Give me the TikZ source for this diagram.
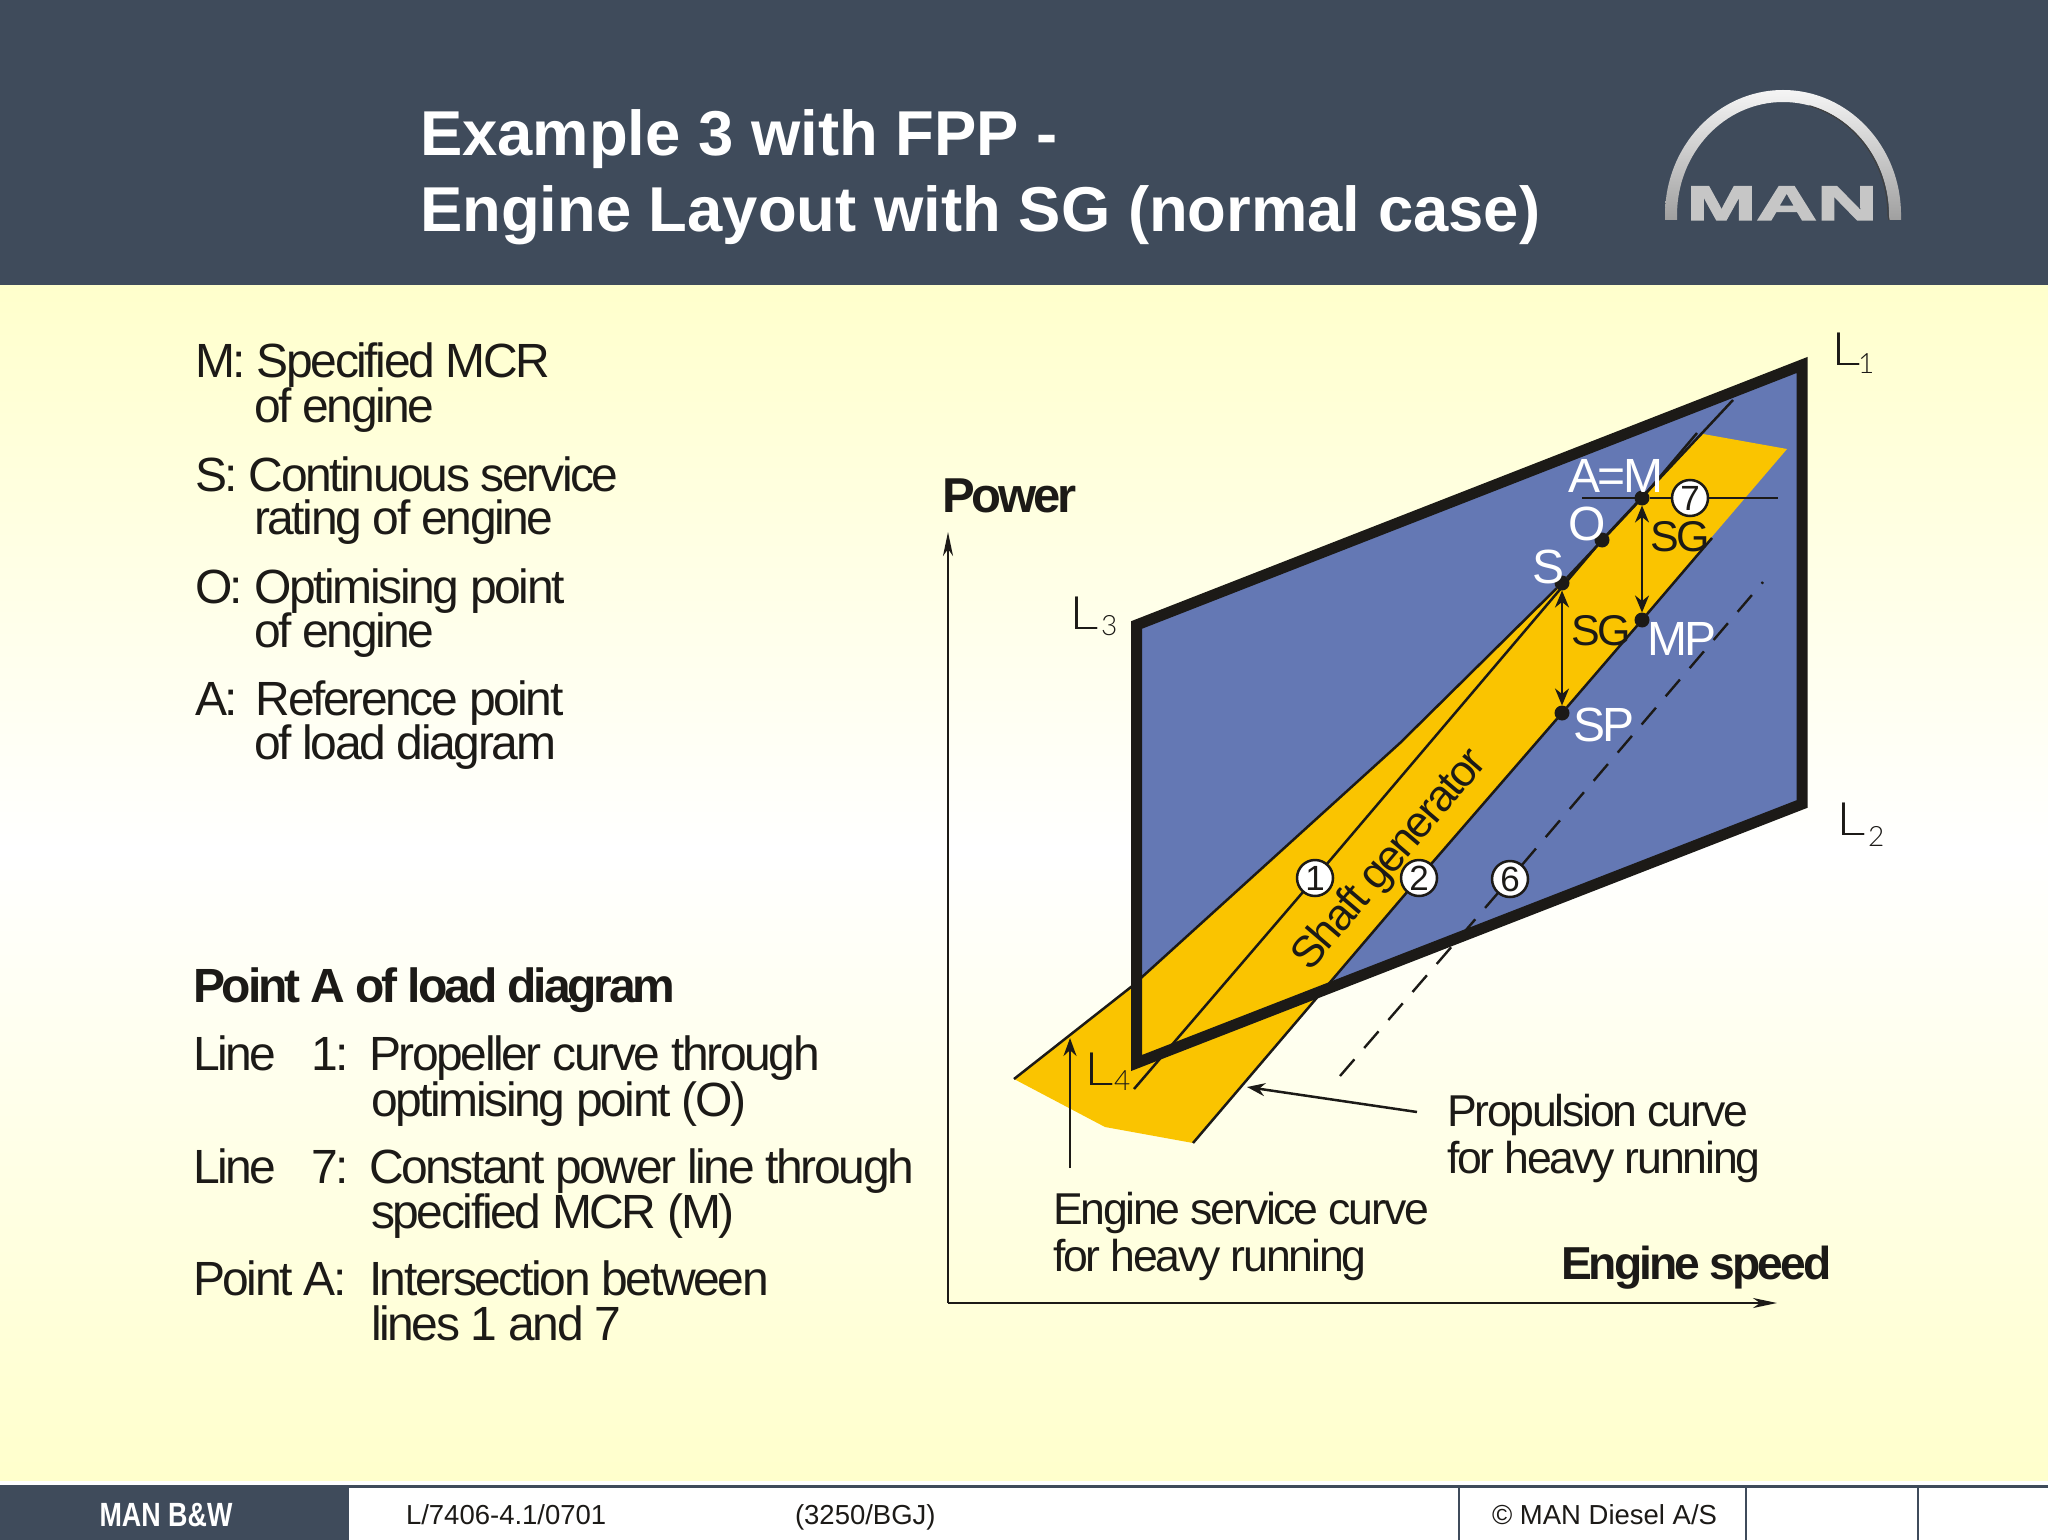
\documentclass[tikz,border=0pt]{standalone}
\usepackage{fontspec}
\setmainfont{Liberation Sans}
\newfontfamily\tightfont[LetterSpace=-5]{Liberation Sans}
\newfontfamily\tightbold[LetterSpace=-6.5]{Liberation Sans Bold}
\newfontfamily\logofont[FakeBold=2.5]{Liberation Sans Bold}
\newfontfamily\thinfont{Lato Light}
\usetikzlibrary{arrows.meta}
\definecolor{headblue}{HTML}{3F4B5B}
\definecolor{paleyellow}{HTML}{FFFFCC}
\definecolor{fieldblue}{HTML}{6478B4}
\definecolor{bandyellow}{HTML}{FAC400}
\definecolor{inkblack}{HTML}{1C1A17}
\begin{document}
\begin{tikzpicture}[
   x=0.5pt,y=-0.5pt,
   every node/.style={inner sep=0pt,outer sep=0pt,text=inkblack},
   txt/.style={anchor=base west,font=\tightfont\fontsize{24}{24}\selectfont},
   capt/.style={anchor=base west,font=\tightfont\fontsize{22.3}{22.3}\selectfont},
   txtb/.style={anchor=base west,font=\tightbold\fontsize{24}{24}\selectfont},
   sglab/.style={anchor=base west,font=\tightfont\fontsize{21.5}{22}\selectfont},
   wht/.style={txt,text=white},
   title/.style={anchor=base west,text=white,font=\bfseries\fontsize{31.7}{32}\selectfont},
   foot/.style={anchor=base west,font=\fontsize{13.75}{14}\selectfont},
   lmark/.style={anchor=base west,xscale=1.25,font=\thinfont\fontsize{23}{24}\selectfont},
   lsub/.style={anchor=base west,font=\thinfont\fontsize{14}{15}\selectfont},
   num/.style={circle,draw=inkblack,fill=white,line width=1.25pt,minimum size=18pt,font=\fontsize{17.5}{18}\selectfont},
   dot/.style={circle,fill=inkblack,minimum size=7.5pt},
   curve/.style={draw=inkblack,line width=1.25pt},
   twoway/.style={curve,{Stealth[length=8.5pt,width=7pt]}-{Stealth[length=8.5pt,width=7pt]}},
   oneway/.style={curve,-{Stealth[length=9pt,width=6.5pt]}},
   axis/.style={draw=inkblack,line width=1.1pt,-{Stealth[length=12pt,width=5pt,inset=3.5pt]}}
 ]
  \useasboundingbox (0,0) rectangle (2048,1540);
  \fill[white] (0,0) rectangle (2048,1540);
  \shade[top color=paleyellow,bottom color=white] (0,285) rectangle (2048,850);
  \shade[top color=white,bottom color=paleyellow] (0,850) rectangle (2048,1480);
  \fill[headblue] (0,0) rectangle (2048,285);
  \fill[headblue] (0,1485) rectangle (2048,1488);
  \fill[headblue] (0,1485) rectangle (349,1540);
  \draw[headblue,line width=1pt] (1459,1486) -- (1459,1540);
  \draw[headblue,line width=1pt] (1746,1486) -- (1746,1540);
  \draw[headblue,line width=1pt] (1918,1486) -- (1918,1540);

  \node[title] (t1) at (420,156) {Example 3 with FPP -};
  \node[title] (t2) at (420,232) {Engine Layout with SG (normal case)};

  % logo
  \shade[top color=white!92!gray,bottom color=gray!75]
    (1665,220) -- (1665,215) arc[start angle=180,end angle=360,x radius=118,y radius=125]
    -- (1901,220) -- (1889,220) -- (1889,215) arc[start angle=360,end angle=180,x radius=106,y radius=113]
    -- (1677,220) -- cycle;
  \draw[black!75,line width=0.6pt] (1809.4,105.8) arc[start angle=285,end angle=360,x radius=106,y radius=113] -- (1889,220);
  \node[text=gray!45,font=\logofont\fontsize{24.4}{24.4}\selectfont,xscale=1.72,anchor=base] (logo) at (1782,220) {MAN};

  % left column
  \node[txt] (m1) at (195,378) {M: Specified MCR};
  \node[txt] (m2) at (254,422.5) {of engine};
  \node[txt] (s1) at (195,491) {S: Continuous service};
  \node[txt] (s2) at (254,534.5) {rating of engine};
  \node[txt] (o1) at (195,603) {O: Optimising point};
  \node[txt] (o2) at (254,647.5) {of engine};
  \node[txt] (a1) at (195,715) {A:\hspace{9pt}Reference point};
  \node[txt] (a2) at (254,759.5) {of load diagram};

  \node[txtb] (pa) at (193,1002) {Point A of load diagram};
  \node[txt] (l1a) at (193,1070) {Line};
  \node[txt] (l1b) at (311,1070) {1:};
  \node[txt] (l1c) at (369,1070) {Propeller curve through};
  \node[txt] (l1d) at (371,1116) {optimising point (O)};
  \node[txt] (l7a) at (193,1183) {Line};
  \node[txt] (l7b) at (311,1183) {7:};
  \node[txt] (l7c) at (369,1183) {Constant power line through};
  \node[txt] (l7d) at (371,1228) {specified MCR (M)};
  \node[txt] (ia) at (193,1295) {Point A:};
  \node[txt] (ib) at (369,1295) {Intersection between};
  \node[txt] (ic) at (371,1340) {lines 1 and 7};

  % layout field
  \fill[fieldblue] (1136.5,625) -- (1802,365) -- (1802,804) -- (1136.5,1063) -- cycle;
  \fill[bandyellow] (1014,1079) -- (1131,987) -- (1400,743) -- (1562,583) -- (1642,498) -- (1703,434)
    -- (1787,449) -- (1193,1143) -- (1105,1127) -- cycle;

  \coordinate (up0) at (1014,1079);
  \coordinate (up1) at (1131,987);
  \coordinate (up2) at (1400,743);
  \coordinate (up3) at (1697,433);
  \coordinate (pr0) at (1134,1089);
  \coordinate (pr1) at (1733,400);
  \coordinate (lo0) at (1193,1143);
  \coordinate (lo1) at (1712,538);
  \coordinate (h0) at (1582,498);
  \coordinate (h1) at (1778,498);
  \coordinate (d0) at (1340,1076);
  \coordinate (d1) at (1763,582);

  \node[dot] (S) at (1562,583) {};
  \node[dot] (O) at (1602,540) {};
  \node[dot] (M) at (1642,498) {};
  \node[dot] (MP) at (1642,620) {};
  \node[dot] (SP) at (1562,713) {};
  \node[num] (n7) at (1690,498) {7};
  \node[num] (n1) at (1315,878) {1};
  \node[num] (n2) at (1419,878) {2};
  \node[num] (n6) at (1510,879) {6};

  \draw[curve] (up0) -- (up1) -- (up2) -- (S) -- (M) -- (up3);
  \draw[curve] (pr0) -- (n1) -- (O) -- (pr1);
  \draw[curve] (lo0) -- (n2) -- (SP) -- (MP) -- (lo1);
  \draw[curve] (h0) -- (M) -- (n7) -- (h1);
  \draw[twoway] (S) -- (SP);
  \draw[twoway] (M) -- (MP);
  \draw[inkblack,line width=1.2pt,dash pattern=on 11pt off 7.5pt] (d0) -- (n6) -- (d1);

  \draw[inkblack,line width=5.5pt,line join=miter] (1136.5,625) -- (1802,365) -- (1802,804) -- (1136.5,1063) -- cycle;

  \node[wht] (lam) at (1568,492) {A=M};
  \node[wht] (lo) at (1568,540) {O};
  \node[wht] (ls) at (1532,583) {S};
  \node[sglab] (lsg1) at (1650,551) {SG};
  \node[sglab] (lsg2) at (1571,645) {SG};
  \node[wht] (lmp) at (1647,655) {MP};
  \node[wht] (lsp) at (1573,741) {SP};
  \node[txt,rotate=49.5,font=\tightfont\fontsize{22}{22}\selectfont] (shaft) at (1310,972) {Shaft generator};

  \node[lmark] (L1) at (1831,365) {L};
  \node[lsub] (L1s) at (1858,373) {1};
  \node[lmark] (L2) at (1836,835) {L};
  \node[lsub] (L2s) at (1868,846) {2};
  \node[lmark] (L3) at (1069,629) {L};
  \node[lsub] (L3s) at (1101,635) {3};
  \node[lmark] (L4) at (1084,1085) {L};
  \node[lsub] (L4s) at (1114,1090) {4};

  % axes and captions
  \coordinate (org) at (948,1303);
  \coordinate (ytop) at (948,532);
  \coordinate (xend) at (1777,1303);
  \draw[axis] (org) -- (ytop);
  \draw[axis] (org) -- (xend);
  \node[txtb,font=\tightbold\fontsize{24.5}{24.5}\selectfont] (power) at (942,512) {Power};
  \node[txtb,font=\tightbold\fontsize{23.1}{23.1}\selectfont] (speed) at (1561,1279) {Engine speed};
  \node[capt] (pc1) at (1447,1126) {Propulsion curve};
  \node[capt] (pc2) at (1447,1173) {for heavy running};
  \node[capt] (sc1) at (1053,1224) {Engine service curve};
  \node[capt] (sc2) at (1053,1271) {for heavy running};
  \coordinate (pcs) at (1417,1112);
  \coordinate (pct) at (1247,1087);
  \coordinate (scs) at (1070,1168);
  \coordinate (sct) at (1070,1038);
  \draw[oneway] (pcs) -- (pct);
  \draw[oneway] (scs) -- (sct);

  % footer
  \node[anchor=base,text=white,font=\bfseries\fontsize{16.8}{17}\selectfont,xscale=0.8] (brand) at (166,1526) {MAN B\&W};
  \node[foot] (f1) at (406,1524) {L/7406-4.1/0701};
  \node[foot] (f2) at (795,1524) {(3250/BGJ)};
  \node[foot] (f3) at (1492,1524) {© MAN Diesel A/S};
 \end{tikzpicture}
\end{document}
